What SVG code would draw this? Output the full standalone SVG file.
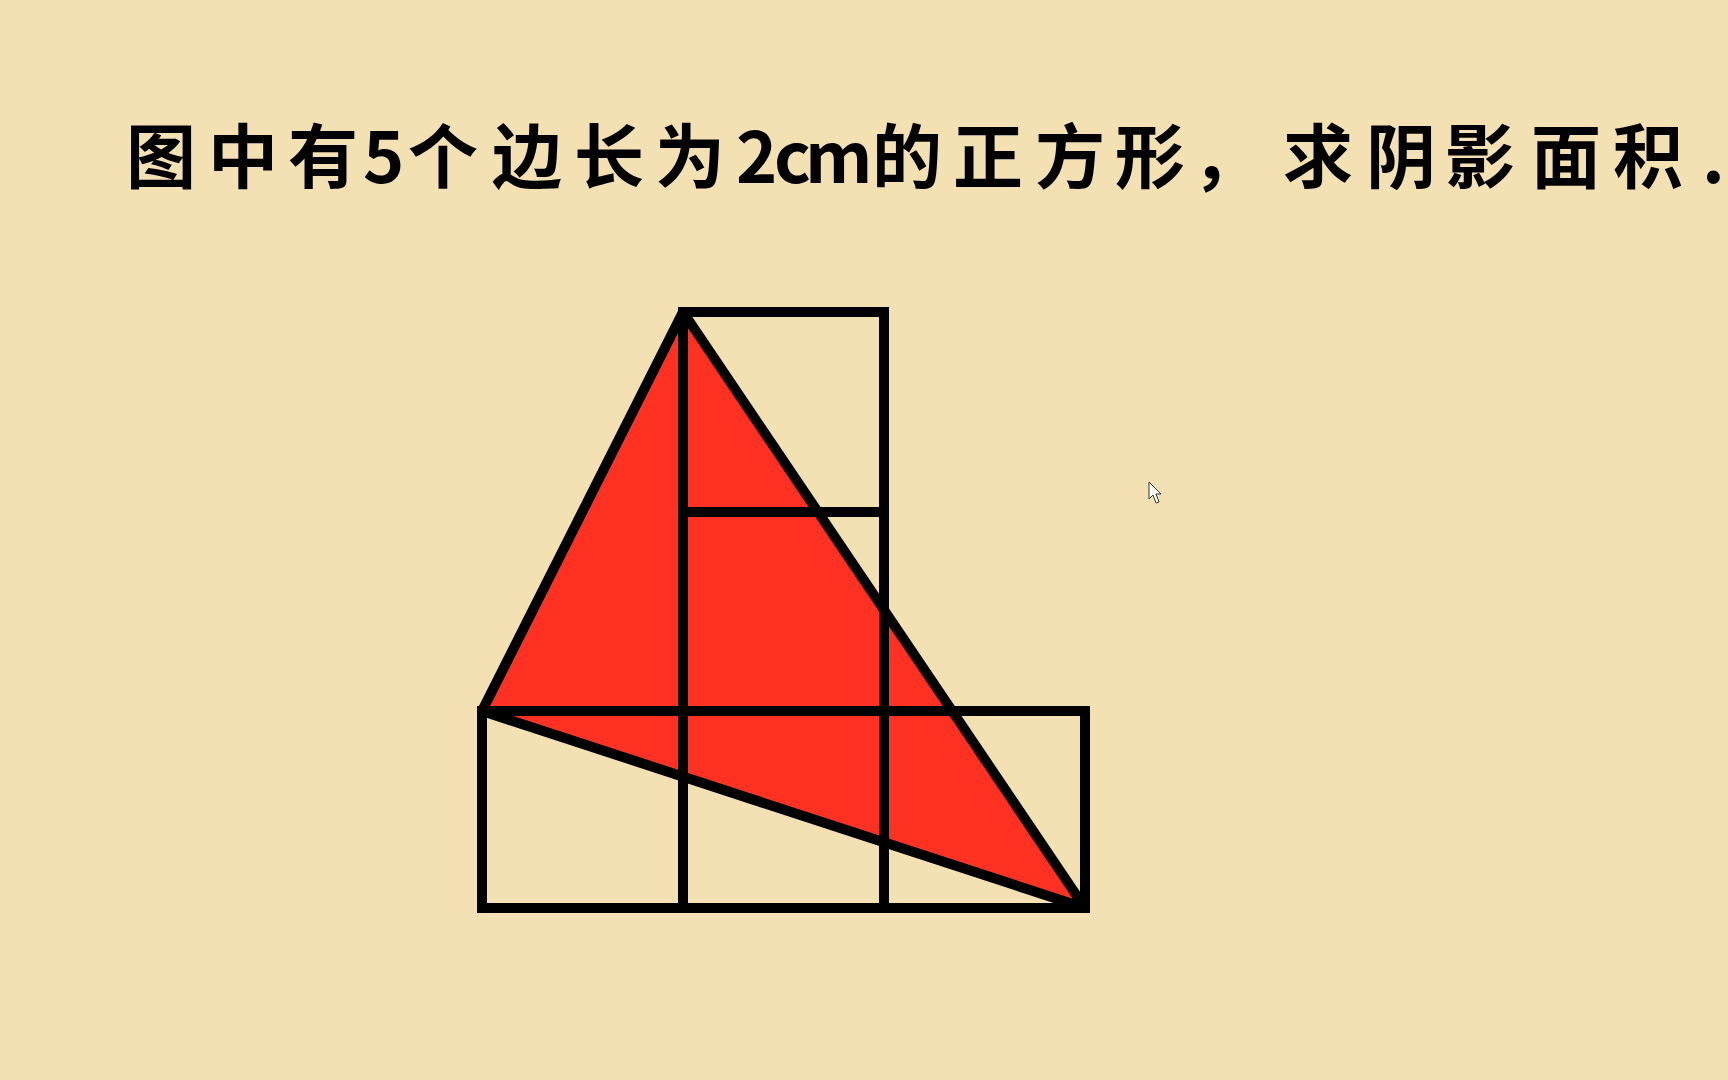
<svg xmlns="http://www.w3.org/2000/svg" width="1728" height="1080" viewBox="0 0 1728 1080">
<defs>
<style>
.bg{fill:#F3E1B4}
.sq{fill:none;stroke:#000;stroke-width:10;stroke-linejoin:miter;stroke-linecap:square}
.shade{fill:#FE3123;stroke:none}
.edge{fill:none;stroke:#000;stroke-width:10;stroke-linejoin:round}
.title{font-family:"Noto Sans CJK SC","Noto Sans CJK JP",sans-serif;font-size:70px;font-weight:bold;fill:#000}
</style>
</defs>
<rect class="bg" x="0" y="0" width="1728" height="1080"/>
<g id="title">
<text class="title" y="183" x="126 208 288 363 408 492 574 655 736 774 805 872 953 1035 1115 1192 1283 1366 1445 1531 1613 1702">图中有5个边长为2cm的正方形，求阴影面积.</text>
</g>
<g id="shaded-triangle">
<polygon class="shade" points="683,312 482,711 1085,908"/>
</g>
<g id="square-top">
<rect class="sq" x="683" y="312" width="201" height="200"/>
</g>
<g id="square-middle">
<rect class="sq" x="683" y="512" width="201" height="199"/>
</g>
<g id="square-bottom-left">
<rect class="sq" x="482" y="711" width="201" height="197"/>
</g>
<g id="square-bottom-middle">
<rect class="sq" x="683" y="711" width="201" height="197"/>
</g>
<g id="square-bottom-right">
<rect class="sq" x="884" y="711" width="201" height="197"/>
</g>
<g id="connectors">
<polygon class="edge" points="683,312 482,711 1085,908"/>
</g>
<g id="cursor">
<path d="M1149,482 L1149,499 L1153,495 L1156,503 L1159,502 L1156,494 L1161,494 Z" fill="#fff" stroke="#333" stroke-width="1"/>
</g>
</svg>
